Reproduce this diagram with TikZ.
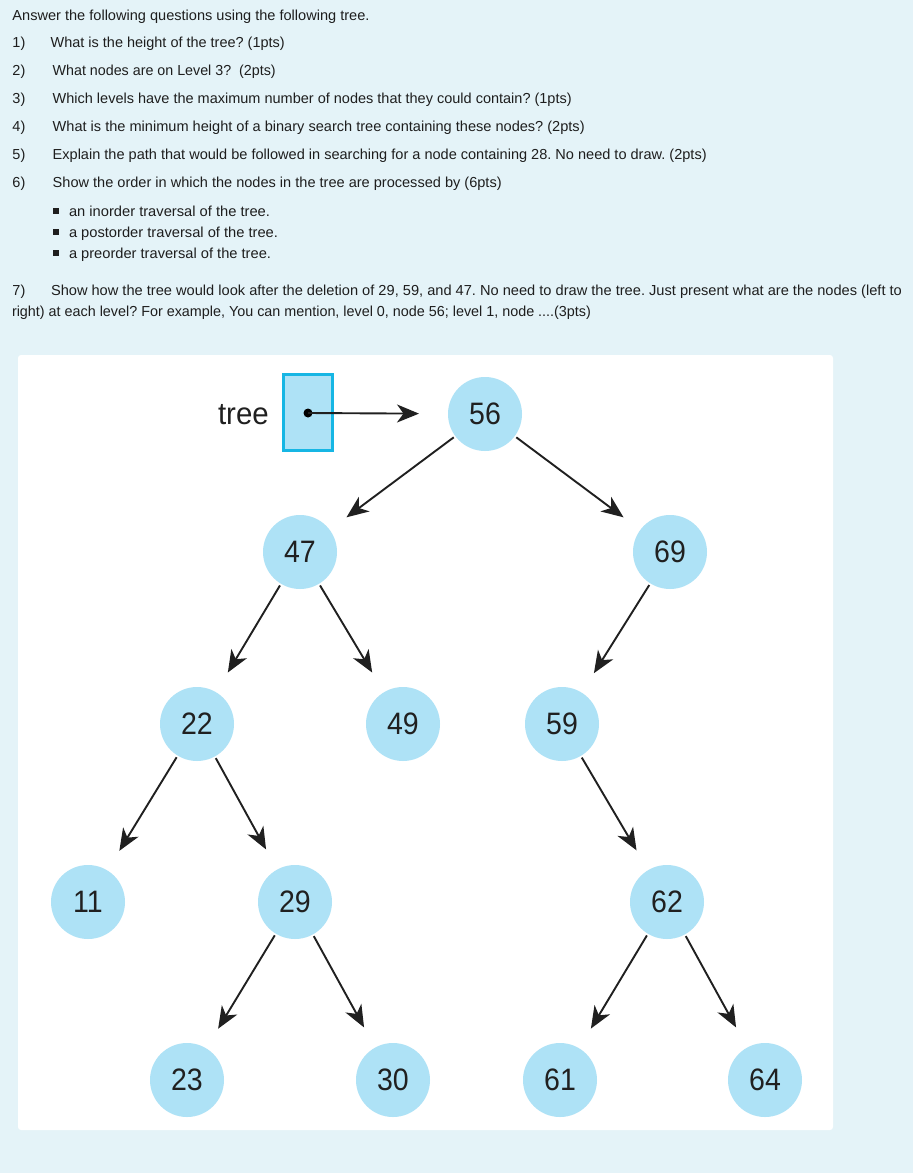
\documentclass[tikz,border=0pt]{standalone}
\usepackage{fontspec}
\setmainfont{Liberation Sans}
\usetikzlibrary{arrows.meta}
\definecolor{bg}{RGB}{228,243,248}
\definecolor{circ}{RGB}{174,226,246}
\definecolor{boxc}{RGB}{22,182,228}
\definecolor{ink}{RGB}{32,32,32}
\definecolor{txtc}{RGB}{30,30,30}
\newcommand{\fitw}[2]{\resizebox{#1}{\height}{#2}}
\frenchspacing
\begin{document}
\begin{tikzpicture}[x=1pt,y=-1pt,
  txt/.style={anchor=base west,inner sep=0pt,outer sep=0pt,text=txtc,font=\fontsize{14.5}{16}\selectfont},
  bnode/.style={circle,fill=circ,minimum size=74pt,inner sep=0pt,outer sep=0pt,text=ink,font=\fontsize{31}{31}\selectfont},
  arr/.style={draw=ink,line width=1.9pt,-{Stealth[length=22pt,width=18pt,inset=6.5pt]},shorten <=2pt,shorten >=23pt},
  bulletsq/.style={fill=txtc,minimum size=6.5pt,inner sep=0pt,outer sep=0pt}
]
\useasboundingbox[fill=bg] (0,0) rectangle (913,1173);

% question text
\node[txt] (q0) at (12.5,20) {\fitw{357pt}{Answer the following questions using the following tree.}};
\node[txt] (n1) at (12.5,47.5) {1)};
\node[txt] (q1) at (50.7,47.5) {\fitw{234pt}{What is the height of the tree? (1pts)}};
\node[txt] (n2) at (12.5,75.5) {2)};
\node[txt] (q2) at (52.7,75.5) {\fitw{223pt}{What nodes are on Level 3?\ \ (2pts)}};
\node[txt] (n3) at (12.5,103) {3)};
\node[txt] (q3) at (52.7,103) {\fitw{519pt}{Which levels have the maximum number of nodes that they could contain? (1pts)}};
\node[txt] (n4) at (12.5,131) {4)};
\node[txt] (q4) at (52.7,131) {\fitw{532pt}{What is the minimum height of a binary search tree containing these nodes? (2pts)}};
\node[txt] (n5) at (12.5,159) {5)};
\node[txt] (q5) at (52.7,159) {\fitw{654pt}{Explain the path that would be followed in searching for a node containing 28. No need to draw. (2pts)}};
\node[txt] (n6) at (12.5,187) {6)};
\node[txt] (q6) at (52.7,187) {\fitw{449pt}{Show the order in which the nodes in the tree are processed by (6pts)}};

\node[bulletsq] (b1) at (56,211) {};
\node[txt] (s1) at (69,216) {\fitw{201pt}{an inorder traversal of the tree.}};
\node[bulletsq] (b2) at (56,232) {};
\node[txt] (s2) at (69,237) {\fitw{209pt}{a postorder traversal of the tree.}};
\node[bulletsq] (b3) at (56,253) {};
\node[txt] (s3) at (69,258) {\fitw{202pt}{a preorder traversal of the tree.}};

\node[txt] (n7) at (12.5,295) {7)};
\node[txt] (q7) at (51,295) {\fitw{851pt}{Show how the tree would look after the deletion of 29, 59, and 47. No need to draw the tree. Just present what are the nodes (left to}};
\node[txt] (q7b) at (12,316) {\fitw{579pt}{right) at each level? For example, You can mention, level 0, node 56; level 1, node ....(3pts)}};

% white panel
\fill[white,rounded corners=3pt] (18,355) rectangle (833,1130);

% tree pointer
\node[draw=boxc,line width=3pt,fill=circ,minimum width=49pt,minimum height=76pt,inner sep=0pt] (box) at (308,412) {};
\node[circle,fill=black,minimum size=9pt,inner sep=0pt] (dot) at (308,413) {};
\node[anchor=base east,inner sep=0pt,text=ink,font=\fontsize{31}{31}\selectfont] (lbl) at (269,424) {\scalebox{0.95}[1]{tree}};

% nodes
\node[bnode] (v56) at (485,414) {\scalebox{0.92}[1]{56}};
\node[bnode] (v47) at (300,552) {\scalebox{0.92}[1]{47}};
\node[bnode] (v69) at (670,552) {\scalebox{0.92}[1]{69}};
\node[bnode] (v22) at (197,724) {\scalebox{0.92}[1]{22}};
\node[bnode] (v49) at (403,724) {\scalebox{0.92}[1]{49}};
\node[bnode] (v59) at (562,724) {\scalebox{0.92}[1]{59}};
\node[bnode] (v11) at (88,902) {\scalebox{0.92}[1]{11}};
\node[bnode] (v29) at (295,902) {\scalebox{0.92}[1]{29}};
\node[bnode] (v62) at (667,902) {\scalebox{0.92}[1]{62}};
\node[bnode] (v23) at (187,1080) {\scalebox{0.92}[1]{23}};
\node[bnode] (v30) at (393,1080) {\scalebox{0.92}[1]{30}};
\node[bnode] (v61) at (560,1080) {\scalebox{0.92}[1]{61}};
\node[bnode] (v64) at (765,1080) {\scalebox{0.92}[1]{64}};

% connectors
\draw[arr,shorten <=0pt,shorten >=29pt] (dot.center) -- (v56);
\draw[arr,shorten >=21pt] (v56) -- (v47);
\draw[arr,shorten >=21pt] (v56) -- (v69);
\draw[arr] (v47) -- (v22);
\draw[arr] (v47) -- (v49);
\draw[arr] (v69) -- (v59);
\draw[arr] (v22) -- (v11);
\draw[arr] (v22) -- (v29);
\draw[arr] (v59) -- (v62);
\draw[arr] (v29) -- (v23);
\draw[arr] (v29) -- (v30);
\draw[arr] (v62) -- (v61);
\draw[arr] (v62) -- (v64);
\end{tikzpicture}
\end{document}
